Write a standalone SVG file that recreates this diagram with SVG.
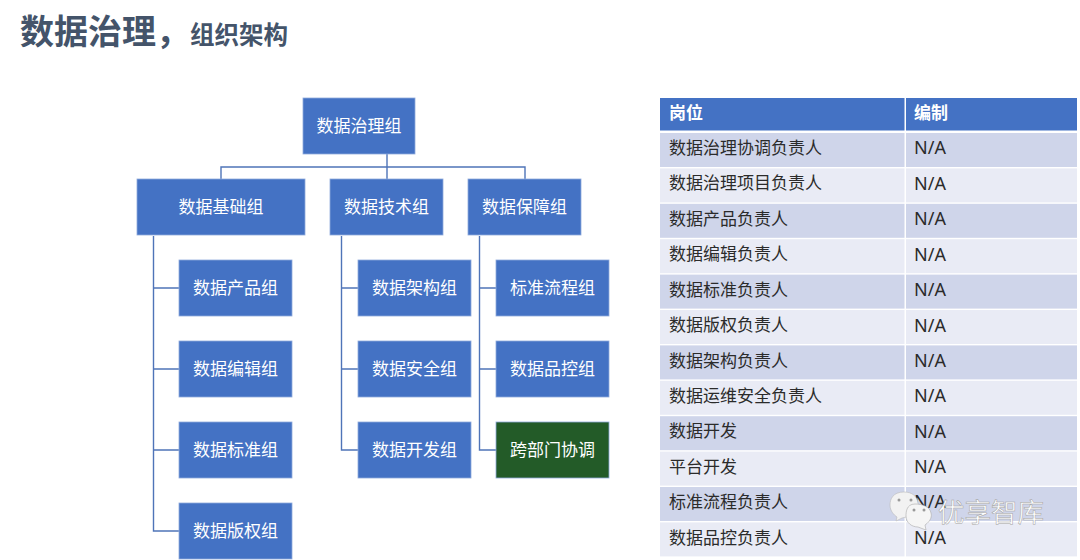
<svg xmlns="http://www.w3.org/2000/svg" width="1080" height="560" viewBox="0 0 1080 560">
<style>
text{font-family:"Noto Sans CJK SC","Liberation Sans",sans-serif}
.n{fill:#4472c4;stroke:#8faadc;stroke-width:.8}
.l{fill:#fff;font-size:17px;text-anchor:middle;dominant-baseline:central}
.c{fill:none;stroke:#4f74b8;stroke-width:1.4}
.h{fill:#4472c4}.a{fill:#cfd5ea}.b{fill:#e9ebf5}
.th{fill:#fff;font-size:17px;font-weight:700;dominant-baseline:central}
.td{fill:#2b2b2b;font-size:17px;dominant-baseline:central}
.na{fill:#2b2b2b;font-size:18px;font-family:"Noto Sans","Liberation Sans",sans-serif;dominant-baseline:central}
</style>
<rect width="1080" height="560" fill="#fff"/>
<g id="title" fill="#44546a" font-weight="700">
<text x="20" y="44" font-size="34">数据治理，</text>
<text x="190" y="44" font-size="24.500">组织架构</text>
</g>
<g id="connectors" class="c">
<path d="M387 154V167M221 179V167H525V179M387 167V179"/>
<path d="M153.500 236V531H179M153.500 288H179M153.500 369H179M153.500 450H179"/>
<path d="M341.500 236V450H358M341.500 288H358M341.500 369H358"/>
<path d="M479.500 236V450H496M479.500 288H496M479.500 369H496"/>
</g>
<g id="n0"><rect class="n" x="303" y="98" width="112" height="56"/><text class="l" x="359" y="124.500">数据治理组</text></g>
<g id="n1"><rect class="n" x="137" y="179" width="168" height="56"/><text class="l" x="221" y="205.500">数据基础组</text></g>
<g id="n2"><rect class="n" x="330" y="179" width="113" height="56"/><text class="l" x="386.500" y="205.500">数据技术组</text></g>
<g id="n3"><rect class="n" x="468" y="179" width="113" height="56"/><text class="l" x="524.500" y="205.500">数据保障组</text></g>
<g id="n4"><rect class="n" x="179" y="260" width="113" height="56"/><text class="l" x="235.500" y="286.500">数据产品组</text></g>
<g id="n5"><rect class="n" x="179" y="341" width="113" height="56"/><text class="l" x="235.500" y="367.500">数据编辑组</text></g>
<g id="n6"><rect class="n" x="179" y="422" width="113" height="56"/><text class="l" x="235.500" y="448.500">数据标准组</text></g>
<g id="n7"><rect class="n" x="179" y="503" width="113" height="56"/><text class="l" x="235.500" y="529.500">数据版权组</text></g>
<g id="n8"><rect class="n" x="358" y="260" width="113" height="56"/><text class="l" x="414.500" y="286.500">数据架构组</text></g>
<g id="n9"><rect class="n" x="358" y="341" width="113" height="56"/><text class="l" x="414.500" y="367.500">数据安全组</text></g>
<g id="n10"><rect class="n" x="358" y="422" width="113" height="56"/><text class="l" x="414.500" y="448.500">数据开发组</text></g>
<g id="n11"><rect class="n" x="496" y="260" width="113" height="56"/><text class="l" x="552.500" y="286.500">标准流程组</text></g>
<g id="n12"><rect class="n" x="496" y="341" width="113" height="56"/><text class="l" x="552.500" y="367.500">数据品控组</text></g>
<g id="n13"><rect x="496" y="422" width="113" height="56" fill="#235b28" stroke="#8faadc" stroke-width=".8"/><text class="l" x="552.500" y="448.500">跨部门协调</text></g>
<g id="table">
<rect class="h" x="660" y="98" width="244.500" height="32.500"/><rect class="h" x="906" y="98" width="171" height="32.500"/>
<text class="th" x="669" y="111">岗位</text><text class="th" x="914" y="111">编制</text>
<g>
<rect class="a" x="660" y="133" width="244.500" height="34"/><rect class="a" x="906" y="133" width="171" height="34"/>
<rect class="b" x="660" y="168.400" width="244.500" height="34"/><rect class="b" x="906" y="168.400" width="171" height="34"/>
<rect class="a" x="660" y="203.800" width="244.500" height="34"/><rect class="a" x="906" y="203.800" width="171" height="34"/>
<rect class="b" x="660" y="239.200" width="244.500" height="34"/><rect class="b" x="906" y="239.200" width="171" height="34"/>
<rect class="a" x="660" y="274.600" width="244.500" height="34"/><rect class="a" x="906" y="274.600" width="171" height="34"/>
<rect class="b" x="660" y="310" width="244.500" height="34"/><rect class="b" x="906" y="310" width="171" height="34"/>
<rect class="a" x="660" y="345.400" width="244.500" height="34"/><rect class="a" x="906" y="345.400" width="171" height="34"/>
<rect class="b" x="660" y="380.800" width="244.500" height="34"/><rect class="b" x="906" y="380.800" width="171" height="34"/>
<rect class="a" x="660" y="416.200" width="244.500" height="34"/><rect class="a" x="906" y="416.200" width="171" height="34"/>
<rect class="b" x="660" y="451.600" width="244.500" height="34"/><rect class="b" x="906" y="451.600" width="171" height="34"/>
<rect class="a" x="660" y="487" width="244.500" height="34"/><rect class="a" x="906" y="487" width="171" height="34"/>
<rect class="b" x="660" y="522.400" width="244.500" height="34"/><rect class="b" x="906" y="522.400" width="171" height="34"/>
</g>
<text class="td" x="669" y="146">数据治理协调负责人</text><text class="na" x="914" y="147">N/A</text>
<text class="td" x="669" y="181.500">数据治理项目负责人</text><text class="na" x="914" y="182.500">N/A</text>
<text class="td" x="669" y="217">数据产品负责人</text><text class="na" x="914" y="218">N/A</text>
<text class="td" x="669" y="252.500">数据编辑负责人</text><text class="na" x="914" y="253.500">N/A</text>
<text class="td" x="669" y="288">数据标准负责人</text><text class="na" x="914" y="289">N/A</text>
<text class="td" x="669" y="323.500">数据版权负责人</text><text class="na" x="914" y="324.500">N/A</text>
<text class="td" x="669" y="359">数据架构负责人</text><text class="na" x="914" y="360">N/A</text>
<text class="td" x="669" y="394.500">数据运维安全负责人</text><text class="na" x="914" y="395">N/A</text>
<text class="td" x="669" y="429.500">数据开发</text><text class="na" x="914" y="430.500">N/A</text>
<text class="td" x="669" y="465">平台开发</text><text class="na" x="914" y="466">N/A</text>
<text class="td" x="669" y="500.500">标准流程负责人</text><text class="na" x="914" y="501">N/A</text>
<text class="td" x="669" y="536">数据品控负责人</text><text class="na" x="914" y="536.500">N/A</text>
</g>
<g id="watermark">
<path d="M904 492C893 492 890 499 890 505C890 511 894 515 897 517L896 521L902 518L915 515C920 510 921 492 904 492Z" fill="#f2f2f2" stroke="#bbb" stroke-width=".6"/>
<circle cx="899" cy="500" r="1.500" fill="#999"/><circle cx="911" cy="500" r="1.500" fill="#999"/>
<path d="M915 504C906 504 906 513 906 516C906 523 912 527 918 527L926 530L925 525C931 521 932 516 931 513C930 507 923 504 915 504Z" fill="#f5f5f5" stroke="#aaa" stroke-width=".6"/>
<circle cx="914" cy="510" r="1.500" fill="#999"/><circle cx="924" cy="510" r="1.500" fill="#999"/>
<text x="938" y="522" font-size="26.500" fill="#fff" stroke="#a0a0a0" stroke-width=".5">优享智库</text>
</g>
</svg>
